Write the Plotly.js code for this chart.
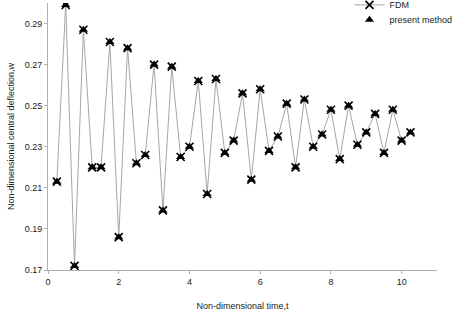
<!DOCTYPE html>
<html>
<head>
<meta charset="utf-8">
<script src="https://cdn.plot.ly/plotly-3.0.1.min.js"></script>
<style>html,body{margin:0;padding:0;background:#fff;}#chart{width:474px;height:315px;}</style>
</head>
<body>
<div id="chart"></div>
<script>
var timeT = [0.25, 0.5, 0.75, 1.0, 1.25, 1.5, 1.75, 2.0, 2.25, 2.5, 2.75, 3.0, 3.25, 3.5, 3.75, 4.0, 4.25, 4.5, 4.75, 5.0, 5.25, 5.5, 5.75, 6.0, 6.25, 6.5, 6.75, 7.0, 7.25, 7.5, 7.75, 8.0, 8.25, 8.5, 8.75, 9.0, 9.25, 9.5, 9.75, 10.0, 10.25];
var fdmW = [0.213, 0.299, 0.172, 0.287, 0.220, 0.220, 0.281, 0.186, 0.278, 0.222, 0.226, 0.270, 0.199, 0.269, 0.225, 0.230, 0.262, 0.207, 0.263, 0.227, 0.233, 0.256, 0.214, 0.258, 0.228, 0.235, 0.251, 0.220, 0.253, 0.230, 0.236, 0.248, 0.224, 0.250, 0.231, 0.237, 0.246, 0.227, 0.248, 0.233, 0.237];
var presentW = [0.213, 0.299, 0.172, 0.287, 0.220, 0.220, 0.281, 0.186, 0.278, 0.222, 0.226, 0.270, 0.199, 0.269, 0.225, 0.230, 0.262, 0.207, 0.263, 0.227, 0.233, 0.256, 0.214, 0.258, 0.228, 0.235, 0.251, 0.220, 0.253, 0.230, 0.236, 0.248, 0.224, 0.250, 0.231, 0.237, 0.246, 0.227, 0.248, 0.233, 0.237];
var xTicks = [0, 2, 4, 6, 8, 10];
var yTicks = [0.17, 0.19, 0.21, 0.23, 0.25, 0.27, 0.29];

var traces = [
  {x: timeT, y: fdmW, name: 'FDM', type: 'scatter', mode: 'lines+markers', legend: 'legend',
   line: {color: '#a6a6a6', width: 1},
   marker: {symbol: 'x-thin', size: 8, color: '#000', line: {color: '#000', width: 1.6}}},
  {x: timeT, y: presentW, name: 'present method', type: 'scatter', mode: 'markers', legend: 'legend2',
   marker: {symbol: 'triangle-up', size: 8, color: '#000'}}
];
var legendCommon = {xanchor: 'left', yanchor: 'middle', bgcolor: 'rgba(0,0,0,0)',
                    font: {size: 9, color: '#222'}, itemwidth: 30, borderwidth: 0};
var layout = {
  width: 474, height: 315,
  margin: {l: 48, r: 37, t: 3, b: 45, autoexpand: false},
  paper_bgcolor: '#fff', plot_bgcolor: '#fff',
  font: {family: 'Liberation Sans, Arial, sans-serif', size: 9, color: '#222'},
  showlegend: true,
  legend: Object.assign({x: 0.775, y: 0.993}, legendCommon),
  legend2: Object.assign({x: 0.775, y: 0.937}, legendCommon),
  xaxis: {range: [0, 11], tickvals: xTicks, ticktext: xTicks.map(String),
          showgrid: false, zeroline: false, showline: true, linecolor: '#b0b0b0', linewidth: 1,
          ticks: 'outside', ticklen: 3, tickcolor: '#b0b0b0',
          title: {text: 'Non-dimensional time,t', font: {size: 9}, standoff: 16}},
  yaxis: {range: [0.17, 0.30], tickvals: yTicks, ticktext: yTicks.map(function(v){return v.toFixed(2);}),
          showgrid: false, zeroline: false, showline: true, linecolor: '#b0b0b0', linewidth: 1,
          ticks: 'outside', ticklen: 3, tickcolor: '#b0b0b0',
          title: {text: 'Non-dimensional central deflection,w', font: {size: 9}, standoff: 8}}
};
Plotly.newPlot('chart', traces, layout, {displayModeBar: false, staticPlot: true});
</script>
</body>
</html>
